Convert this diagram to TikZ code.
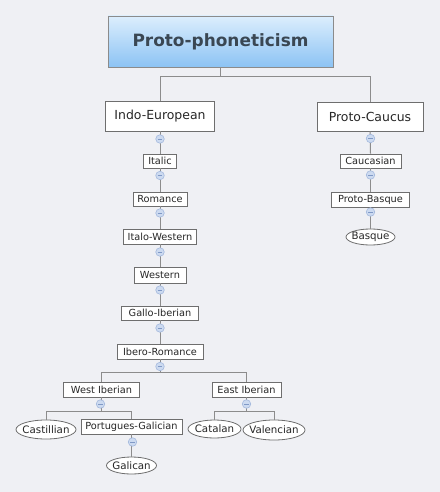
\documentclass[tikz,border=0pt]{standalone}
\usepackage{fontspec}
\setmainfont{DejaVu Sans}
\usetikzlibrary{shapes.geometric}
\definecolor{bgc}{HTML}{EFF0F4}
\definecolor{linec}{HTML}{8C8C8C}
\definecolor{boxc}{HTML}{6E6E6E}
\definecolor{roottop}{HTML}{DCEEFD}
\definecolor{rootbot}{HTML}{8CC3F4}
\definecolor{rootfg}{HTML}{3A4753}
\definecolor{minfill}{HTML}{CCDAF0}
\definecolor{minline}{HTML}{A3B8DD}
\definecolor{mindash}{HTML}{8099C6}
\tikzset{
  box/.style={draw=boxc, line width=0.8bp, fill=white, inner sep=0pt, text=black!85},
  bigbox/.style={box, font=\fontsize{12.5}{14}\selectfont},
  smallbox/.style={box, font=\fontsize{9.8}{11}\selectfont},
  leaf/.style={ellipse, draw=boxc, line width=0.8bp, fill=white, inner sep=0pt,
    label={[text=black!85, font=\fontsize{10.3}{12}\selectfont, inner sep=0pt]center:#1}},
  rootbox/.style={draw=boxc!80, line width=0.8bp, top color=roottop, bottom color=rootbot, inner sep=0pt, text=rootfg, font=\fontsize{17}{20}\selectfont\bfseries},
  conn/.style={draw=linec, line width=1bp},
  minus/.style={circle, draw=minline, fill=minfill, line width=0.6bp, minimum size=8.5bp, inner sep=0pt,
    path picture={\draw[mindash, line width=0.8bp] ([xshift=-2.3bp]path picture bounding box.center) -- ([xshift=2.3bp]path picture bounding box.center);}},
}
\begin{document}
\begin{tikzpicture}[x=1bp, y=-1bp]
\useasboundingbox (0,0) rectangle (440,492);
\fill[bgc] (0,0) rectangle (440,492);
% nodes
\node[rootbox, minimum width=225bp, minimum height=51bp] (root) at (220.5,41.5) {Proto-phoneticism};
\node[bigbox, minimum width=109bp, minimum height=30bp] (indo) at (160,116) {Indo-European};
\node[bigbox, minimum width=106bp, minimum height=29bp] (caucus) at (370,116.5) {Proto-Caucus};
\node[smallbox, minimum width=33bp, minimum height=14bp] (italic) at (160,161) {Italic};
\node[smallbox, minimum width=54bp, minimum height=14bp] (romance) at (160,199) {Romance};
\node[smallbox, minimum width=73bp, minimum height=15bp] (italow) at (160,236.5) {Italo-Western};
\node[smallbox, minimum width=52bp, minimum height=16bp] (western) at (160,275) {Western};
\node[smallbox, minimum width=77bp, minimum height=14bp] (gallo) at (160,313) {Gallo-Iberian};
\node[smallbox, minimum width=86bp, minimum height=15bp] (ibero) at (160,351.5) {Ibero-Romance};
\node[smallbox, minimum width=76bp, minimum height=15bp] (westib) at (101.5,389.5) {West Iberian};
\node[smallbox, minimum width=69bp, minimum height=15bp] (eastib) at (246.5,389.5) {East Iberian};
\node[leaf=Castillian, minimum width=60bp, minimum height=19bp] (castillian) at (46,429.5) {};
\node[smallbox, minimum width=101bp, minimum height=15bp] (portug) at (131.5,426.5) {Portugues-Galician};
\node[leaf=Galican, minimum width=50bp, minimum height=17bp] (galican) at (131.5,465.5) {};
\node[leaf=Catalan, minimum width=53bp, minimum height=18bp] (catalan) at (214.5,429) {};
\node[leaf=Valencian, minimum width=62bp, minimum height=20bp] (valencian) at (274,430) {};
\node[smallbox, minimum width=61bp, minimum height=14bp] (caucasian) at (370.5,161) {Caucasian};
\node[smallbox, minimum width=78bp, minimum height=15bp] (protobasque) at (370.5,199.5) {Proto-Basque};
\node[leaf=Basque, minimum width=49bp, minimum height=16bp] (basque) at (370.5,237) {};
% junctions
\coordinate (rj) at (220.5,77);
\coordinate (ij) at (160,372);
\coordinate (wj) at (101.5,411);
\coordinate (ej) at (246.5,411);
% connectors
\draw[conn] (root.south) -- (rj) -| (indo.north);
\draw[conn] (rj) -| (caucus.north);
\draw[conn] (indo.south) -- (italic.north);
\draw[conn] (italic.south) -- (romance.north);
\draw[conn] (romance.south) -- (italow.north);
\draw[conn] (italow.south) -- (western.north);
\draw[conn] (western.south) -- (gallo.north);
\draw[conn] (gallo.south) -- (ibero.north);
\draw[conn] (ibero.south) -- (ij) -| (westib.north);
\draw[conn] (ij) -| (eastib.north);
\draw[conn] (westib.south) -- (wj) -| (castillian.north);
\draw[conn] (wj) -| (portug.north);
\draw[conn] (portug.south) -- (galican.north);
\draw[conn] (eastib.south) -- (ej) -| (catalan.north);
\draw[conn] (ej) -| (valencian.north);
\draw[conn] (caucus.south) -- (caucasian.north);
\draw[conn] (caucasian.south) -- (protobasque.north);
\draw[conn] (protobasque.south) -- (basque.north);
% collapse markers
\node[minus] (m1) at (160,139) {};
\node[minus] (m2) at (160,175.5) {};
\node[minus] (m3) at (160,213) {};
\node[minus] (m4) at (160,252) {};
\node[minus] (m5) at (160,290) {};
\node[minus] (m6) at (160,328) {};
\node[minus] (m7) at (160,366.5) {};
\node[minus] (m8) at (100.5,404) {};
\node[minus] (m9) at (246.5,404) {};
\node[minus] (m10) at (132.5,442) {};
\node[minus] (m11) at (370.5,138.5) {};
\node[minus] (m12) at (370.5,175) {};
\node[minus] (m13) at (370.5,212) {};
\end{tikzpicture}
\end{document}
